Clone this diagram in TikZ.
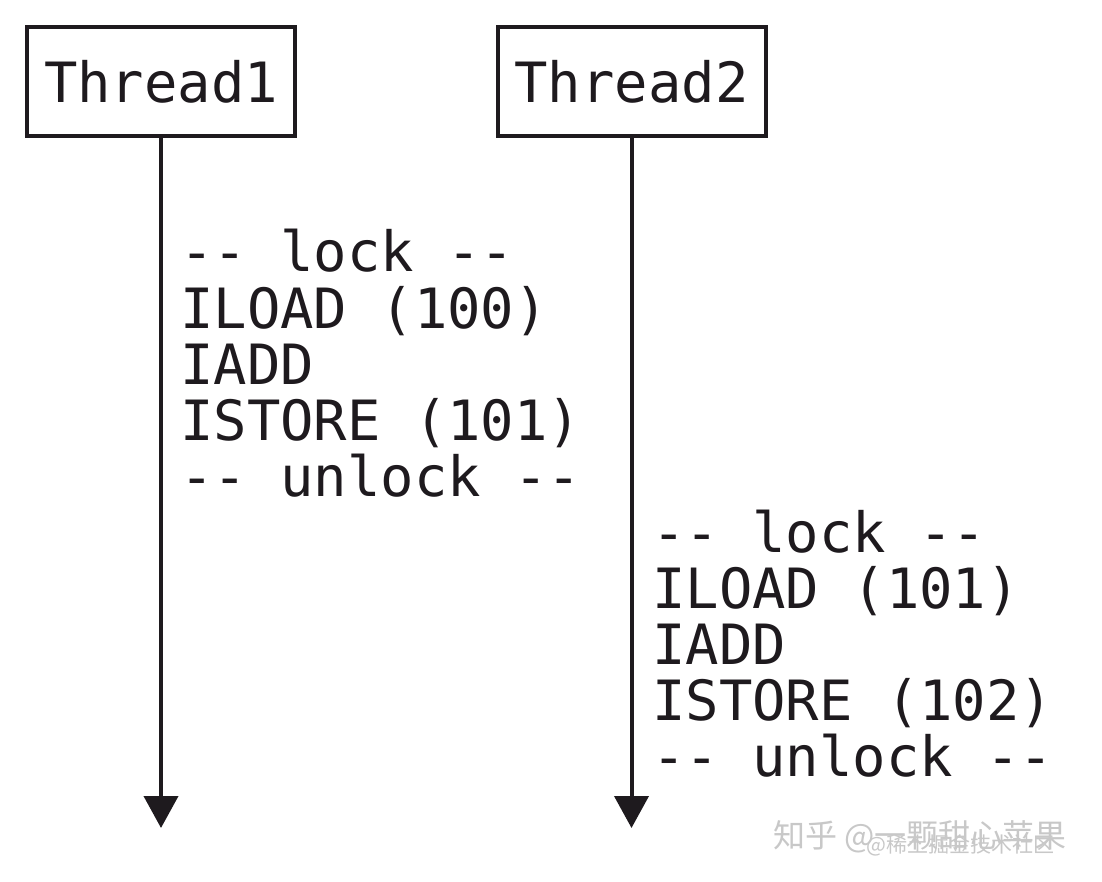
\documentclass[tikz,border=0pt]{standalone}
\usepackage{fontspec}
\setmonofont{DejaVu Sans Mono}
\newfontfamily\cjkfont{Noto Sans CJK SC}
\usetikzlibrary{arrows.meta}
\definecolor{ink}{RGB}{30,26,30}
\definecolor{wm}{RGB}{200,200,200}
\tikzset{
  thread/.style={draw=ink, line width=4pt, inner sep=0pt, minimum width=268pt, minimum height=109pt, text=ink, font=\ttfamily\fontsize{55.5}{56}\selectfont},
  code/.style={anchor=base west, inner sep=0pt, text=ink, font=\ttfamily\fontsize{55.5}{56}\selectfont},
  life/.style={draw=ink, line width=4pt, -{Triangle[width=34pt,length=32pt]}},
  wmark/.style={text=wm, inner sep=0pt, anchor=base west}
}
\begin{document}
\begin{tikzpicture}[x=1pt, y=-1pt]
\useasboundingbox[fill=white] (0,0) rectangle (1102,882);
\node[thread] (t1) at (161,81.5) {Thread1};
\node[thread] (t2) at (631.5,81.5) {Thread2};
\coordinate (e1) at (161,828);
\coordinate (e2) at (631.5,828);
\draw[life] (t1.south) -- (e1);
\draw[life] (t2.south) -- (e2);
\node[code] (a1) at (180,272) {-- lock --};
\node[code] (a2) at (180,328) {ILOAD (100)};
\node[code] (a3) at (180,384) {IADD};
\node[code] (a4) at (180,440) {ISTORE (101)};
\node[code] (a5) at (180,496) {-- unlock --};
\node[code] (b1) at (652,552) {-- lock --};
\node[code] (b2) at (652,608) {ILOAD (101)};
\node[code] (b3) at (652,664) {IADD};
\node[code] (b4) at (652,720) {ISTORE (102)};
\node[code] (b5) at (652,776) {-- unlock --};
\node[wmark, font=\cjkfont\fontsize{32}{32}\selectfont] (w1) at (773,847) {知乎 @一颗甜心苹果};
\node[wmark, font=\cjkfont\fontsize{21}{21}\selectfont] (w2) at (866,852) {@稀土掘金技术社区};
\end{tikzpicture}
\end{document}
